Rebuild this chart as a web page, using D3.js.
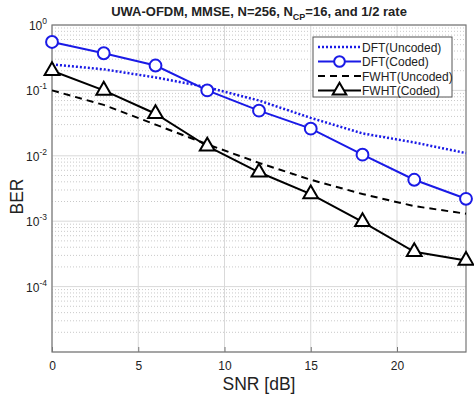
<!DOCTYPE html>
<html>
<head>
<meta charset="utf-8">
<style>
  body { margin: 0; background: #fff; }
  svg { font-family: Arial, "Liberation Sans", sans-serif; }
</style>
</head>
<body>
<svg width="474" height="395"></svg>
<script src="https://d3js.org/d3.v7.min.js"></script>
<script>

var snr = [0, 3, 6, 9, 12, 15, 18, 21, 24];

var dftUncoded  = [0.25, 0.21, 0.158, 0.112, 0.07, 0.038, 0.022, 0.016, 0.011];
var dftCoded    = [0.55, 0.37, 0.24, 0.1, 0.049, 0.026, 0.0104, 0.0043, 0.0022];
var fwhtUncoded = [0.1, 0.06, 0.03, 0.015, 0.0078, 0.0043, 0.0026, 0.0017, 0.0013];
var fwhtCoded   = [0.2, 0.1, 0.044, 0.014, 0.0056, 0.0026, 0.00098, 0.00034, 0.00025];

var xTicks = [0, 5, 10, 15, 20];
var yExps = [0, -1, -2, -3, -4];

var series = [
  { name: "DFT(Uncoded)",  values: dftUncoded,  color: "#1a1ae6", dash: "2,2", marker: null },
  { name: "DFT(Coded)",    values: dftCoded,    color: "#1a1ae6", dash: null,  marker: "circle" },
  { name: "FWHT(Uncoded)", values: fwhtUncoded, color: "#000",    dash: "7,5", marker: null },
  { name: "FWHT(Coded)",   values: fwhtCoded,   color: "#000",    dash: null,  marker: "triangle" }
];

var svg = d3.select("svg"),
    margin = { top: 25, right: 8, bottom: 43, left: 52 },
    width = 474 - margin.left - margin.right,
    height = 395 - margin.top - margin.bottom;

var x = d3.scaleLinear().domain([0, 24]).range([0, width]);
var y = d3.scaleLog().domain([1e-5, 1]).range([height, 0]);

var g = svg.append("g").attr("transform", "translate(" + margin.left + "," + margin.top + ")");

// minor grid (dotted)
var minor = [];
for (var e = -5; e < 0; e++) {
  for (var m = 2; m <= 9; m++) minor.push(m * Math.pow(10, e));
}
g.selectAll(".minor").data(minor).enter().append("line")
    .attr("x1", 0).attr("x2", width)
    .attr("y1", function(d) { return y(d); }).attr("y2", function(d) { return y(d); })
    .attr("stroke", "#bbb").attr("stroke-width", 0.8).attr("stroke-dasharray", "1,2");

// major grid
g.selectAll(".hmajor").data(yExps.concat([-5])).enter().append("line")
    .attr("x1", 0).attr("x2", width)
    .attr("y1", function(d) { return y(Math.pow(10, d)); }).attr("y2", function(d) { return y(Math.pow(10, d)); })
    .attr("stroke", "#d9d9d9").attr("stroke-width", 1);
g.selectAll(".vmajor").data(xTicks).enter().append("line")
    .attr("x1", function(d) { return x(d); }).attr("x2", function(d) { return x(d); })
    .attr("y1", 0).attr("y2", height)
    .attr("stroke", "#d9d9d9").attr("stroke-width", 1);

// box
g.append("rect").attr("width", width).attr("height", height)
    .attr("fill", "none").attr("stroke", "#777").attr("stroke-width", 1.2);

// x axis
var xAxis = d3.axisBottom(x).tickValues(xTicks).tickSize(-5).tickPadding(9);
var gx = g.append("g").attr("transform", "translate(0," + height + ")").call(xAxis);
gx.select(".domain").remove();
gx.selectAll("line").attr("stroke", "#777");
gx.selectAll("text").attr("font-size", 12).attr("fill", "#222");

// y axis labels with superscripts
var gy = g.append("g");
yExps.forEach(function(ex) {
  var t = gy.append("text")
      .attr("x", -5).attr("y", y(Math.pow(10, ex)) + 5)
      .attr("text-anchor", "end").attr("font-size", 12).attr("fill", "#222");
  t.append("tspan").text("10");
  t.append("tspan").attr("dy", -6).attr("font-size", 8.5).text(ex);
});

// lines
var line = d3.line()
    .x(function(d, i) { return x(snr[i]); })
    .y(function(d) { return y(d); });

series.forEach(function(s) {
  g.append("path").datum(s.values)
      .attr("d", line)
      .attr("fill", "none")
      .attr("stroke", s.color)
      .attr("stroke-width", s.dash === "2,2" ? 2.5 : 2)
      .attr("stroke-dasharray", s.dash);
  if (s.marker) {
    g.selectAll(null).data(s.values).enter().append("path")
        .attr("transform", function(d, i) { return "translate(" + x(snr[i]) + "," + y(d) + ")"; })
        .attr("d", d3.symbol().type(s.marker === "circle" ? d3.symbolCircle : d3.symbolTriangle).size(s.marker === "circle" ? 110 : 95))
        .attr("fill", "#fff").attr("stroke", s.color).attr("stroke-width", 2);
  }
});

// legend
var lg = g.append("g").attr("transform", "translate(" + (x(0) + 261) + ",12)");
lg.append("rect").attr("width", 139).attr("height", 60)
    .attr("fill", "#fff").attr("stroke", "#555").attr("stroke-width", 1);
series.forEach(function(s, i) {
  var yy = 10 + i * 14.5;
  lg.append("line").attr("x1", 5).attr("x2", 48).attr("y1", yy).attr("y2", yy)
      .attr("stroke", s.color).attr("stroke-width", s.dash === "2,2" ? 2.5 : 2)
      .attr("stroke-dasharray", s.dash);
  if (s.marker) {
    lg.append("path").attr("transform", "translate(26.5," + yy + ")")
        .attr("d", d3.symbol().type(s.marker === "circle" ? d3.symbolCircle : d3.symbolTriangle).size(s.marker === "circle" ? 90 : 80))
        .attr("fill", "#fff").attr("stroke", s.color).attr("stroke-width", 2);
  }
  lg.append("text").attr("x", 49).attr("y", yy + 4.5)
      .attr("font-size", 12).attr("fill", "#222").text(s.name);
});

// title
var title = svg.append("text")
    .attr("x", margin.left + width / 2).attr("y", 16)
    .attr("text-anchor", "middle").attr("font-size", 13).attr("font-weight", "bold").attr("fill", "#222");
title.append("tspan").text("UWA-OFDM, MMSE, N=256, N");
title.append("tspan").attr("dy", 4).attr("font-size", 9).text("CP");
title.append("tspan").attr("dy", -4).text("=16, and 1/2 rate");

// axis titles
svg.append("text")
    .attr("x", margin.left + width / 2).attr("y", 390)
    .attr("text-anchor", "middle").attr("font-size", 17.5).attr("fill", "#222")
    .text("SNR [dB]");
svg.append("text")
    .attr("transform", "translate(23," + (margin.top + height / 2 + 8) + ") rotate(-90)")
    .attr("text-anchor", "middle").attr("font-size", 17.5).attr("fill", "#222")
    .text("BER");

</script>
</body>
</html>
